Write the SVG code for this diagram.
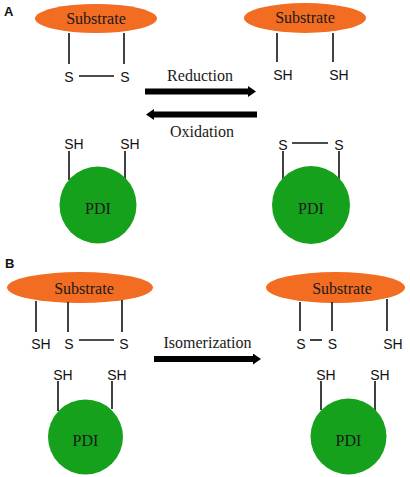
<svg xmlns="http://www.w3.org/2000/svg" width="410" height="477" viewBox="0 0 410 477">
<defs>
<style>
.sub{fill:#f26c22}
.pdi{fill:#16a11c}
.ln{stroke:#111;stroke-width:1.6;fill:none}
.lbl{font-family:"Liberation Serif","Times New Roman",serif;font-size:16px;fill:#1a1a1a;text-anchor:middle}
.s{font-family:"Liberation Sans",Arial,sans-serif;font-size:14px;fill:#111;text-anchor:middle}
.pan{font-family:"Liberation Sans",Arial,sans-serif;font-size:13px;font-weight:bold;fill:#111}
.arr{stroke:#000;stroke-width:6;fill:none}
</style>
<marker id="ah" markerWidth="8" markerHeight="11" refX="1" refY="5.5" orient="auto" markerUnits="userSpaceOnUse" viewBox="0 0 8 11"><path d="M0,0 L8,5.5 L0,11 z" fill="#000"/></marker>
</defs>
<rect width="410" height="477" fill="#fff"/>
<text class="pan" x="4" y="16">A</text>
<text class="pan" x="5" y="268">B</text>

<g id="A_sub_left">
<ellipse class="sub" cx="96" cy="18.5" rx="61" ry="14.5"/>
<text class="lbl" x="96" y="24">Substrate</text>
<line class="ln" x1="69" y1="33" x2="69" y2="64"/>
<line class="ln" x1="124" y1="33" x2="124" y2="64"/>
<text class="s" x="69" y="82">S</text>
<text class="s" x="125" y="82">S</text>
<line class="ln" x1="79" y1="76" x2="114" y2="76"/>
</g>
<g id="A_pdi_left">
<text class="s" x="74" y="149">SH</text>
<text class="s" x="130" y="149">SH</text>
<line class="ln" x1="69" y1="151" x2="69" y2="180"/>
<line class="ln" x1="125" y1="151" x2="125" y2="180"/>
<circle class="pdi" cx="98" cy="205" r="38.5"/>
<text class="lbl" x="98" y="214">PDI</text>
</g>
<g id="A_sub_right">
<ellipse class="sub" cx="305" cy="18" rx="61" ry="15"/>
<text class="lbl" x="305" y="23">Substrate</text>
<line class="ln" x1="277" y1="33" x2="277" y2="62"/>
<line class="ln" x1="333" y1="33" x2="333" y2="62"/>
<text class="s" x="283" y="80">SH</text>
<text class="s" x="339" y="80">SH</text>
</g>
<g id="A_pdi_right">
<text class="s" x="283" y="150">S</text>
<text class="s" x="339" y="150">S</text>
<line class="ln" x1="292" y1="143" x2="328" y2="143"/>
<line class="ln" x1="283" y1="151" x2="283" y2="180"/>
<line class="ln" x1="339" y1="151" x2="339" y2="180"/>
<circle class="pdi" cx="311" cy="205" r="39"/>
<text class="lbl" x="311" y="214">PDI</text>
</g>

<g id="B_sub_left">
<ellipse class="sub" cx="80" cy="287.5" rx="73" ry="15.5"/>
<text class="lbl" x="84" y="294">Substrate</text>
<line class="ln" x1="36" y1="301" x2="36" y2="332"/>
<line class="ln" x1="68" y1="302" x2="68" y2="332"/>
<line class="ln" x1="122" y1="300" x2="122" y2="332"/>
<text class="s" x="41" y="349">SH</text>
<text class="s" x="69" y="349">S</text>
<text class="s" x="124" y="349">S</text>
<line class="ln" x1="79" y1="340" x2="114" y2="340"/>
</g>
<g id="B_pdi_left">
<text class="s" x="63" y="380">SH</text>
<text class="s" x="117" y="380">SH</text>
<line class="ln" x1="58" y1="381" x2="58" y2="411"/>
<line class="ln" x1="112" y1="381" x2="112" y2="409"/>
<circle class="pdi" cx="85.5" cy="437" r="37.5"/>
<text class="lbl" x="85.5" y="446">PDI</text>
</g>
<g id="B_sub_right">
<ellipse class="sub" cx="335.5" cy="287.5" rx="69.5" ry="15.5"/>
<text class="lbl" x="342" y="294">Substrate</text>
<line class="ln" x1="300" y1="302" x2="300" y2="331"/>
<line class="ln" x1="332" y1="302" x2="332" y2="331"/>
<line class="ln" x1="387" y1="299" x2="387" y2="331"/>
<text class="s" x="301" y="349">S</text>
<text class="s" x="332.5" y="349">S</text>
<line class="ln" x1="310" y1="340" x2="322" y2="340"/>
<text class="s" x="393" y="349">SH</text>
</g>
<g id="B_pdi_right">
<text class="s" x="326" y="380">SH</text>
<text class="s" x="380" y="380">SH</text>
<line class="ln" x1="321" y1="381" x2="321" y2="410"/>
<line class="ln" x1="375" y1="381" x2="375" y2="411"/>
<circle class="pdi" cx="348.5" cy="436.5" r="38"/>
<text class="lbl" x="348.5" y="446">PDI</text>
</g>

<g id="connectors">
<line class="arr" x1="145" y1="91.5" x2="249" y2="91.5" marker-end="url(#ah)"/>
<text class="lbl" x="200" y="81">Reduction</text>
<line class="arr" x1="257" y1="114.5" x2="153" y2="114.5" marker-end="url(#ah)"/>
<text class="lbl" x="202" y="137">Oxidation</text>
<line class="arr" x1="154" y1="359" x2="254" y2="359" marker-end="url(#ah)"/>
<text class="lbl" x="207.5" y="348">Isomerization</text>
</g>
</svg>
